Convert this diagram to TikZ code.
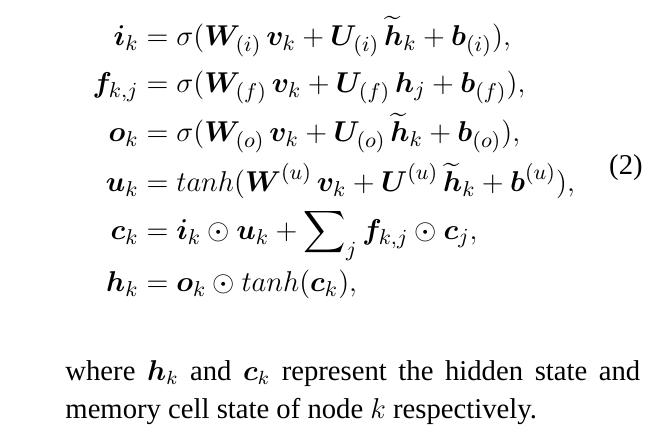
\documentclass[tikz,border=0pt]{standalone}
\usepackage{amsmath,amssymb,bm}
\usepackage{fontspec}
\setmainfont{Liberation Serif}
\begin{document}
\begin{tikzpicture}[x=1pt,y=1pt]
\useasboundingbox (0,0) rectangle (275,181.6);
\node (eq) at (139.7,115) {\fontsize{12.3}{14}\selectfont$\begin{aligned}
\bm i_k &= \sigma(\bm W_{(i)}\,\bm v_k + \bm U_{(i)}\,\widetilde{\bm h}_k + \bm b_{(i)}),\\[1pt]
\bm f_{k,j} &= \sigma(\bm W_{(f)}\,\bm v_k + \bm U_{(f)}\,\bm h_j + \bm b_{(f)}),\\[0pt]
\bm o_k &= \sigma(\bm W_{(o)}\,\bm v_k + \bm U_{(o)}\,\widetilde{\bm h}_k + \bm b_{(o)}),\\[0pt]
\bm u_k &= tanh(\bm W^{(u)}\,\bm v_k + \bm U^{(u)}\,\widetilde{\bm h}_k + \bm b^{(u)}),\\[-1pt]
\bm c_k &= \bm i_k \odot \bm u_k + \sum\nolimits_j \bm f_{k,j}\odot \bm c_j,\\[-1pt]
\bm h_k &= \bm o_k \odot tanh(\bm c_k),
\end{aligned}$};
\node (num) at (262,111.5) {\fontsize{12}{14}\selectfont(2)};
\node[anchor=north west,inner sep=0] (txt) at (27.2,31) {\parbox{240.6pt}{\fontsize{12}{15.9}\selectfont where $\bm h_k$ and $\bm c_k$ represent the hidden state and memory cell state of node $k$ respectively.}};
\end{tikzpicture}
\end{document}
